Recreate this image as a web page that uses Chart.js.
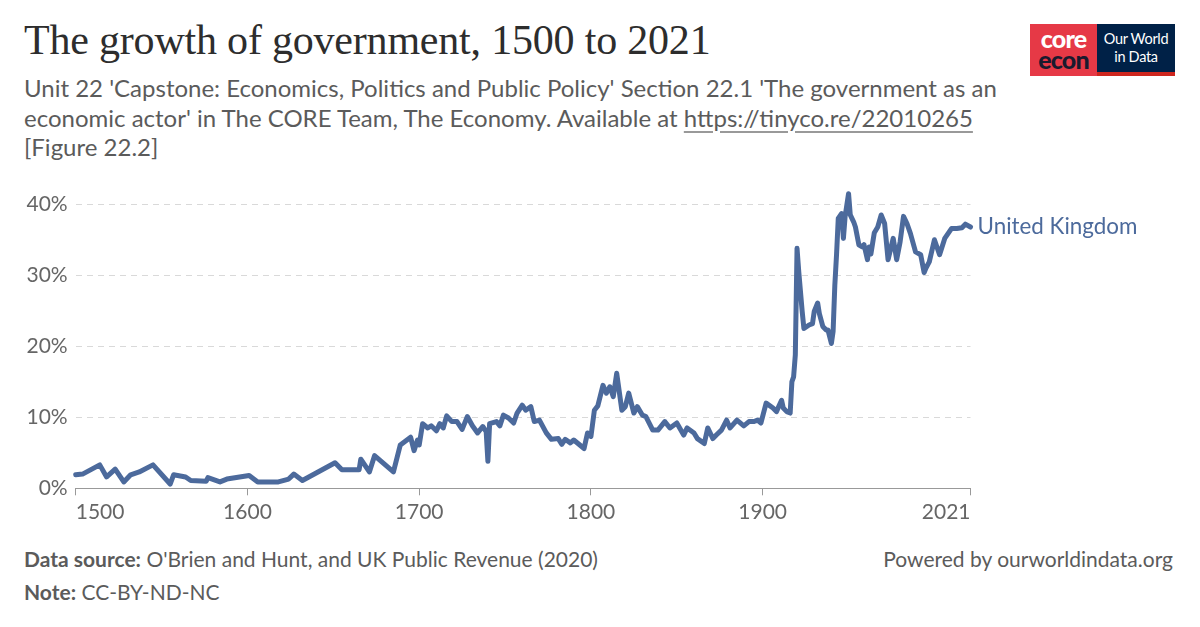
<!DOCTYPE html>
<html lang="en">
<head>
    <meta charset="UTF-8">
    <title>The growth of government, 1500 to 2021</title>
    <script src="https://cdn.jsdelivr.net/npm/chart.js"></script>
    <style>
        body { margin: 0; background: #fff; width: 1200px; height: 627px; overflow: hidden; position: relative; font-family: Lato, "Noto Sans", sans-serif; }
        h1 { position: absolute; left: 24px; top: 16px; margin: 0; font-family: "Liberation Serif", serif; font-weight: normal; font-size: 42px; color: #2d2d2d; white-space: nowrap; letter-spacing: -0.2px; }
        .subtitle { position: absolute; left: 24px; top: 73px; font-size: 24px; line-height: 29.5px; color: #5b5b5b; white-space: nowrap; }
        .subtitle a { color: #5b5b5b; text-decoration: underline; text-underline-offset: 4px; text-decoration-color: #999; }
        .chart-box { position: absolute; left: 0; top: 170px; width: 1200px; height: 370px; }
        .footer { position: absolute; left: 24px; top: 542px; font-size: 21px; line-height: 33px; color: #5b5b5b; white-space: nowrap; }
        .footer b { font-weight: bold; }
        .powered { position: absolute; right: 27px; top: 542px; font-size: 21px; line-height: 33px; color: #5b5b5b; }
        .logo { position: absolute; left: 1030px; top: 24px; width: 145px; height: 52px; }
        .logo .red { position: absolute; left: 0; top: 0; width: 67px; height: 52px; background: #e63946; color: #fff; font-weight: 900; font-size: 25px; line-height: 21px; text-align: center; padding-top: 4px; box-sizing: border-box; letter-spacing: -0.8px; }
        .logo .red span { color: #1a1a2e; }
        .logo .navy { position: absolute; left: 67px; top: 0; width: 78px; height: 48px; background: #002147; color: #fff; font-size: 14.5px; line-height: 18px; text-align: center; padding-top: 6px; box-sizing: border-box; letter-spacing: -0.3px; }
        .logo .strip { position: absolute; left: 67px; top: 48px; width: 78px; height: 4px; background: #ce261e; }
    </style>
</head>
<body>
    <h1>The growth of government, 1500 to 2021</h1>
    <div class="subtitle">Unit 22 'Capstone: Economics, Politics and Public Policy' Section 22.1 'The government as an<br>economic actor' in The CORE Team, The Economy. Available at <a>https://tinyco.re/22010265</a><br>[Figure 22.2]</div>
    <div class="logo">
        <div class="red">core<br><span>econ</span></div>
        <div class="navy">Our World<br>in Data</div>
        <div class="strip"></div>
    </div>
    <div class="chart-box"><canvas id="govChart" width="1200" height="370"></canvas></div>
    <div class="footer"><b>Data source:</b> O'Brien and Hunt, and UK Public Revenue (2020)<br><b>Note:</b> CC-BY-ND-NC</div>
    <div class="powered">Powered by ourworldindata.org</div>
    <script>
        // Government revenue as share of GDP, United Kingdom
        const years = [
            1500, 1504, 1514, 1518, 1523, 1528, 1532, 1537, 1545, 1555, 1557, 1564, 1567, 1576, 1577, 1584, 1588,
            1601, 1606, 1618, 1624, 1627, 1632, 1651, 1655, 1665, 1666, 1671, 1674, 1685, 1689, 1695, 1697, 1699,
            1700, 1702, 1705, 1707, 1710, 1712, 1714, 1716, 1719, 1722, 1725, 1728, 1731, 1734, 1737, 1739, 1740,
            1741, 1745, 1747, 1749, 1752, 1755, 1757, 1760, 1762, 1765, 1767, 1770, 1774, 1777, 1781, 1783, 1785,
            1788, 1790, 1793, 1796, 1798, 1800, 1802, 1804, 1807, 1809, 1811, 1813, 1815, 1818, 1820, 1822, 1825,
            1827, 1830, 1832, 1836, 1839, 1843, 1846, 1850, 1854, 1856, 1860, 1862, 1866, 1868, 1871, 1873, 1876,
            1879, 1881, 1885, 1889, 1892, 1895, 1897, 1899, 1902, 1906, 1908, 1911, 1912, 1914, 1916, 1917, 1918,
            1919, 1920, 1921, 1923, 1924, 1927, 1929, 1930, 1932, 1933, 1935, 1937, 1938, 1940, 1941, 1942, 1943,
            1944, 1946, 1947, 1948, 1950, 1951, 1953, 1954, 1956, 1958, 1959, 1961, 1962, 1963, 1965, 1967, 1969,
            1971, 1973, 1976, 1978, 1980, 1982, 1984, 1986, 1989, 1992, 1994, 1995, 1997, 2000, 2003, 2006, 2008,
            2010, 2013, 2016, 2018, 2021
        ];
        const ukValues = [
            1.9, 2.0, 3.3, 1.6, 2.7, 0.9, 1.9, 2.3, 3.3, 0.6, 1.9, 1.6, 1.1, 1.0, 1.5, 0.9, 1.3,
            1.8, 0.9, 0.9, 1.3, 2.0, 1.1, 3.6, 2.6, 2.6, 4.1, 2.3, 4.6, 2.3, 6.1, 7.2, 5.3, 6.8,
            6.1, 9.1, 8.5, 8.8, 8.1, 9.1, 8.5, 10.2, 9.4, 9.4, 8.3, 10.1, 8.8, 7.8, 8.7, 8.0, 3.8,
            9.1, 9.4, 8.8, 10.3, 9.9, 9.2, 10.6, 11.7, 11.0, 11.5, 9.4, 9.6, 7.8, 6.9, 7.0, 6.2, 6.9,
            6.4, 6.8, 6.2, 5.6, 7.8, 7.3, 11.0, 11.6, 14.5, 13.4, 14.3, 12.9, 16.2, 11.0, 11.5, 13.4, 10.6,
            11.5, 10.3, 10.1, 8.2, 8.2, 9.4, 8.5, 9.2, 7.5, 8.5, 7.8, 7.0, 6.3, 8.5, 7.0, 7.5, 8.2,
            9.6, 8.5, 9.6, 8.8, 9.4, 9.4, 9.6, 9.2, 12.0, 11.3, 10.8, 12.4, 11.3, 10.8, 10.6, 15.0, 15.7,
            18.8, 33.8, 30.5, 24.9, 22.5, 23.0, 23.2, 24.9, 26.1, 24.6, 22.8, 22.3, 22.3, 20.4, 22.1, 28.6, 32.9,
            38.0, 38.7, 35.2, 38.3, 41.5, 38.5, 37.5, 36.8, 34.3, 34.0, 34.3, 32.2, 34.0, 33.0, 36.0, 36.8, 38.5,
            37.3, 32.2, 35.2, 32.2, 34.7, 38.3, 37.3, 35.9, 33.3, 32.9, 30.4, 31.0, 31.9, 35.0, 32.9, 35.2, 35.9,
            36.6, 36.6, 36.7, 37.2, 36.8
        ];
        const seriesName = 'United Kingdom';
        const xTickYears = [1500, 1600, 1700, 1800, 1900, 2021];
        const yTickValues = [0, 10, 20, 30, 40];

        const lineColor = '#4c6a9c';
        const tickFont = { family: 'Lato', size: 21 };

        // Etiqueta da série no fim da linha
        const endLabel = {
            id: 'endLabel',
            afterDatasetsDraw(chart) {
                const meta = chart.getDatasetMeta(0);
                const last = meta.data[meta.data.length - 1];
                const ctx = chart.ctx;
                ctx.save();
                ctx.font = '22.4px Lato';
                ctx.fillStyle = lineColor;
                ctx.textBaseline = 'middle';
                ctx.fillText(seriesName, last.x + 7, last.y);
                ctx.restore();
            }
        };

        const ctx = document.getElementById('govChart').getContext('2d');
        new Chart(ctx, {
            type: 'line',
            data: {
                datasets: [{
                    label: seriesName,
                    data: years.map((y, i) => ({ x: y, y: ukValues[i] })),
                    borderColor: lineColor,
                    borderWidth: 5,
                    pointRadius: 0,
                    tension: 0,
                    borderJoinStyle: 'round',
                    borderCapStyle: 'round',
                    clip: false
                }]
            },
            options: {
                responsive: false,
                animation: false,
                layout: { padding: { left: 0, right: 229.5, top: 34.3, bottom: 11.7 } },
                plugins: { legend: { display: false }, tooltip: { enabled: false } },
                scales: {
                    x: {
                        type: 'linear',
                        min: 1500,
                        max: 2021,
                        afterBuildTicks: scale => { scale.ticks = xTickYears.map(v => ({ value: v })); },
                        afterFit: scale => { scale.height = 40; },
                        grid: { drawOnChartArea: false, drawTicks: true, tickLength: 7, color: '#999' },
                        border: { display: true, color: '#999', width: 1 },
                        ticks: {
                            font: tickFont,
                            color: '#666',
                            align: 'inner',
                            maxRotation: 0,
                            padding: 4,
                            callback: v => String(v)
                        }
                    },
                    y: {
                        min: 0,
                        max: 40,
                        afterBuildTicks: scale => { scale.ticks = yTickValues.map(v => ({ value: v })); },
                        afterFit: scale => { scale.width = 75.7; },
                        grid: {
                            drawTicks: false,
                            color: c => c.tick.value === 0 ? 'rgba(0,0,0,0)' : '#d9d9d9',
                            lineWidth: 1
                        },
                        border: { display: false, dash: [6, 5] },
                        ticks: {
                            font: tickFont,
                            color: '#666',
                            padding: 8,
                            callback: v => v + '%'
                        }
                    }
                }
            },
            plugins: [endLabel]
        });
    </script>
</body>
</html>
